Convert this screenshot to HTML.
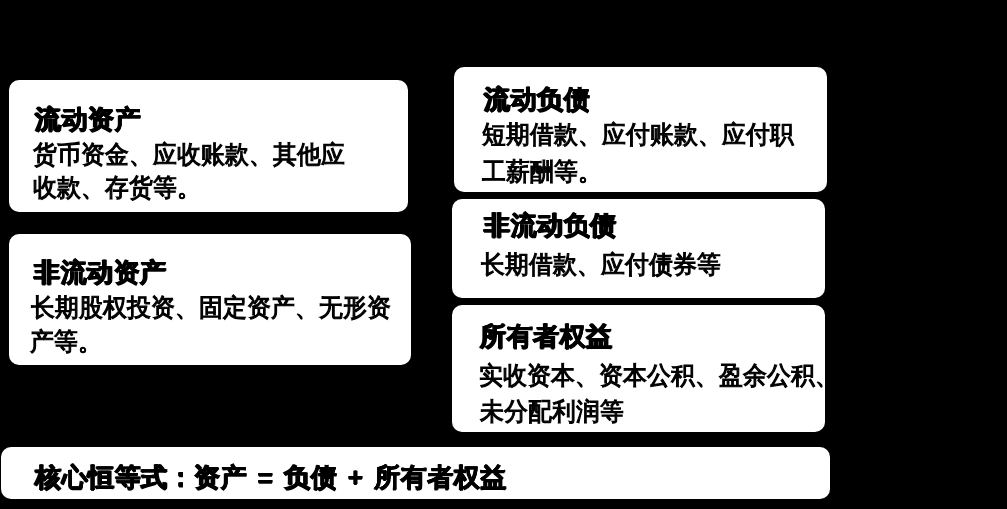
<!DOCTYPE html>
<html><head><meta charset="utf-8">
<style>
html,body{margin:0;padding:0;width:1007px;height:509px;background:#000;overflow:hidden}
body{position:relative;font-family:"Liberation Sans",sans-serif;color:#000}
.b{position:absolute;background:#fff;border-radius:10px}
.t,.d{position:absolute;white-space:nowrap;transform-origin:0 0;will-change:transform}
.t{font-weight:bold;font-size:26px;letter-spacing:0.5px;line-height:30px;text-shadow:0.65px 0 0 #000,-0.65px 0 0 #000,0 0.5px 0 #000,0 -0.5px 0 #000}
.d{font-size:24px;line-height:30px;-webkit-text-stroke:1.1px #000;transform:scaleY(1.05)}
.e{word-spacing:3px}
</style></head><body>
<div class="b" style="left:9px;top:80px;width:399px;height:132px"></div>
<div class="t" style="left:35px;top:103.5px">流动资产</div>
<div class="d" style="left:33px;top:139px">货币资金、应收账款、其他应</div>
<div class="d" style="left:33px;top:172px">收款、存货等。</div>

<div class="b" style="left:9px;top:234px;width:402px;height:131px"></div>
<div class="t" style="left:34px;top:257px">非流动资产</div>
<div class="d" style="left:31px;top:292px">长期股权投资、固定资产、无形资</div>
<div class="d" style="left:30px;top:326px">产等。</div>

<div class="b" style="left:454px;top:67px;width:373px;height:125px"></div>
<div class="t" style="left:484px;top:83.5px">流动负债</div>
<div class="d" style="left:482px;top:118.5px">短期借款、应付账款、应付职</div>
<div class="d" style="left:482px;top:155.5px">工薪酬等。</div>

<div class="b" style="left:452px;top:198.5px;width:373px;height:99.5px"></div>
<div class="t" style="left:484px;top:210px">非流动负债</div>
<div class="d" style="left:481px;top:249px">长期借款、应付债券等</div>

<div class="b" style="left:452px;top:305px;width:373px;height:127px"></div>
<div class="t" style="left:480px;top:320.5px">所有者权益</div>
<div class="d" style="left:479px;top:360px">实收资本、资本公积、盈余公积、</div>
<div class="d" style="left:479.5px;top:395.5px">未分配利润等</div>

<div class="b" style="left:1px;top:447px;width:829px;height:52px"></div>
<div class="t e" style="left:35px;top:461.5px">核心恒等式：资产 <span style="position:relative;top:1px">=</span> 负债 + 所有者权益</div>
</body></html>
